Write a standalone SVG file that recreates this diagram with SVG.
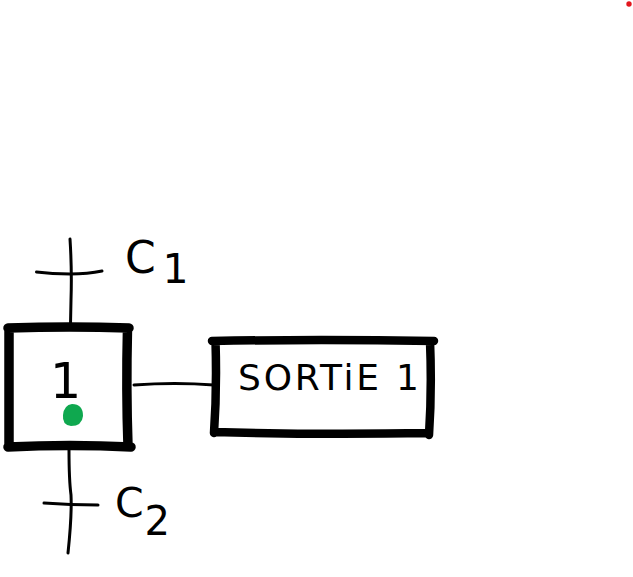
<svg xmlns="http://www.w3.org/2000/svg" width="633" height="577" viewBox="0 0 633 577">
<style>
.bar{fill:none;stroke:#000;stroke-linecap:round;stroke-linejoin:round}
.step{stroke-width:9.500}
.out{stroke-width:8.500}
.wire{fill:none;stroke:#000;stroke-width:3;stroke-linecap:round;stroke-linejoin:round}
text{font-family:"DejaVu Sans","Liberation Sans",sans-serif;fill:#000}
</style>
<rect width="633" height="577" fill="#fff"/>
<g id="connectors">
<path class="wire" d="M70 239Q72 270 71 300L70.500 324"/>
<path class="wire" d="M36.500 272Q52 274 70 274Q88 274 102 271"/>
<path class="wire" d="M134 385Q175 382 214 385"/>
<path class="wire" d="M69 450Q69 480 71 495Q72 515 68 553"/>
<path class="wire" d="M44 503Q70 505 98 505"/>
</g>
<g id="step-1">
<path class="bar step" d="M8 328Q70 326 129 328M9 328V446M127.500 328Q126 390 128 446M8 447Q70 444 131 447"/>
<text x="50" y="398" font-size="49">1</text>
<path d="M72 404Q83 404 83 416Q82 426 71 426Q62 425 63 415Q64 405 72 404Z" fill="#0fa84f"/>
</g>
<g id="output-1">
<path class="bar out" d="M212 341Q320 339 434 341M215.500 341Q217 390 214 433M430 341Q432 390 429 435M214 432Q320 435 429 433"/>
<text x="238" y="390" font-size="36" textLength="181" lengthAdjust="spacing">SORTiE 1</text>
</g>
<g id="label-c1">
<text x="125" y="273" font-size="44">C</text>
<text x="162.500" y="283" font-size="41">1</text>
</g>
<g id="label-c2">
<text x="115" y="517" font-size="41">C</text>
<text x="144.500" y="535" font-size="40">2</text>
</g>
<circle id="red-dot" cx="629" cy="4" r="2.700" fill="#e3161d"/>
</svg>
